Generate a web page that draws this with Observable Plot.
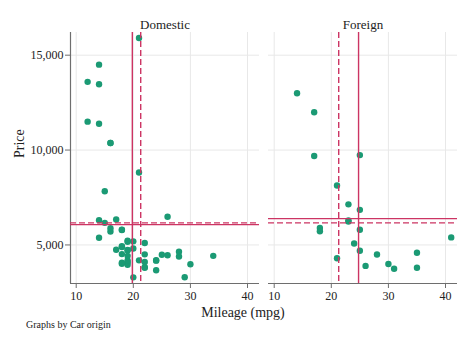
<!DOCTYPE html>
<html>
<head>
<meta charset="utf-8">
<script src="https://cdn.jsdelivr.net/npm/d3@7"></script>
<script src="https://cdn.jsdelivr.net/npm/@observablehq/plot@0.6"></script>
<style>
  html, body { margin: 0; padding: 0; background: #fff; }
  #chart { width: 474px; height: 344px; position: relative; font-family: "Liberation Serif", "DejaVu Serif", serif; }
  #chart figure { margin: 0; }
  .caption { font-size: 10px; line-height: 10px; padding-left: 26px; color: #222; position: relative; top: -2px; }
</style>
</head>
<body>
<div id="chart"></div>
<script>
// 1978 automobile data: make, price (USD), mileage (mpg), origin
const makes = [
  "AMC Concord","AMC Pacer","AMC Spirit","Buick Century","Buick Electra","Buick LeSabre","Buick Opel","Buick Regal",
  "Buick Riviera","Buick Skylark","Cad. Deville","Cad. Eldorado","Cad. Seville","Chev. Chevette","Chev. Impala",
  "Chev. Malibu","Chev. Monte Carlo","Chev. Monza","Chev. Nova","Dodge Colt","Dodge Diplomat","Dodge Magnum",
  "Dodge St. Regis","Ford Fiesta","Ford Mustang","Linc. Continental","Linc. Mark V","Linc. Versailles","Merc. Bobcat",
  "Merc. Cougar","Merc. Marquis","Merc. Monarch","Merc. XR-7","Merc. Zephyr","Olds 98","Olds Cutl Supr","Olds Cutlass",
  "Olds Delta 88","Olds Omega","Olds Starfire","Olds Toronado","Plym. Arrow","Plym. Champ","Plym. Horizon",
  "Plym. Sapporo","Plym. Volare","Pont. Catalina","Pont. Firebird","Pont. Grand Prix","Pont. Le Mans","Pont. Phoenix",
  "Pont. Sunbird",
  "Audi 5000","Audi Fox","BMW 320i","Datsun 200","Datsun 210","Datsun 510","Datsun 810","Fiat Strada","Honda Accord",
  "Honda Civic","Mazda GLC","Peugeot 604","Renault Le Car","Subaru","Toyota Celica","Toyota Corolla","Toyota Corona",
  "VW Dasher","VW Diesel","VW Rabbit","VW Scirocco","Volvo 260"
];
const price = [
  4099,4749,3799,4816,7827,5788,4453,5189,10372,4082,11385,14500,15906,3299,5705,4504,5104,3667,3955,3984,4010,5886,
  6342,4389,4187,11497,13594,13466,3829,5379,6165,4516,6303,3291,8814,5172,4733,4890,4181,4195,10371,4647,4425,4482,
  6486,4060,5798,4934,5222,4723,4424,4172,
  9690,6295,9735,6229,4589,5079,8129,4296,5799,4499,3995,12990,3895,3798,5899,3748,5719,7140,5397,4697,6850,11995
];
const mpg = [
  22,17,22,20,15,18,26,20,16,19,14,14,21,29,16,22,22,24,19,30,18,16,17,28,21,12,12,14,22,14,15,18,14,20,21,19,19,18,
  19,24,16,28,34,25,26,18,18,18,19,19,19,24,
  17,23,25,23,35,24,21,21,25,28,30,14,26,35,18,31,18,23,41,25,25,17
];
const origin = makes.map((_, i) => (i < 52 ? "Domestic" : "Foreign"));
const origins = ["Domestic", "Foreign"];
const xTicks = [10, 20, 30, 40];
const yTicks = [5000, 10000, 15000];

const cars = makes.map((make, i) => ({make, price: price[i], mpg: mpg[i], origin: origin[i]}));

// group means (solid) and overall means (dashed)
const groupMeans = origins.map(o => {
  const g = cars.filter(d => d.origin === o);
  return {origin: o, mpg: d3.mean(g, d => d.mpg), price: d3.mean(g, d => d.price)};
});
const overall = {mpg: d3.mean(cars, d => d.mpg), price: d3.mean(cars, d => d.price)};

const xDomain = [9, 42.1];
const yDomain = [2968, 16195];
const lineColor = "#cc3463";
const dotColor = "#1b9a74";
const gridColor = "#e8e8e8";
const axisColor = "#6e6e6e";

const plot = Plot.plot({
  width: 474,
  height: 322,
  marginTop: 32,
  marginBottom: 39,
  marginLeft: 69,
  marginRight: 16,
  style: {fontFamily: "Liberation Serif, DejaVu Serif, serif", fontSize: "12px", color: "#222", background: "#fff", overflow: "visible"},
  x: {domain: xDomain},
  y: {domain: yDomain},
  fx: {domain: origins, paddingInner: 0.045, paddingOuter: 0},
  marks: [
    Plot.gridX(xTicks, {stroke: gridColor, strokeOpacity: 1}),
    Plot.gridY(yTicks, {stroke: gridColor, strokeOpacity: 1}),
    Plot.axisFx({anchor: "top", label: null, tickSize: 0, tickPadding: 4, fontSize: 13}),
    Plot.axisX(xTicks, {anchor: "bottom", label: null, tickSize: 5, tickPadding: 3, stroke: axisColor, fontSize: 12}),
    Plot.axisY(yTicks, {anchor: "left", label: null, tickSize: 5, tickPadding: 2, stroke: axisColor, fontSize: 12, tickFormat: d3.format(",")}),
    // axis lines
    Plot.ruleY([yDomain[0]], {stroke: axisColor, strokeWidth: 1.2}),
    Plot.ruleX([{origin: "Domestic"}], {x: () => xDomain[0], fx: "origin", stroke: axisColor, strokeWidth: 1.2}),
    // scatter
    Plot.dot(cars, {x: "mpg", y: "price", fx: "origin", r: 3.2, fill: dotColor, stroke: "none"}),
    // overall means
    Plot.ruleX([overall], {x: "mpg", stroke: lineColor, strokeWidth: 1.4, strokeDasharray: "6,3"}),
    Plot.ruleY([overall], {y: "price", stroke: lineColor, strokeWidth: 1.4, strokeDasharray: "6,3"}),
    // group means
    Plot.ruleX(groupMeans, {x: "mpg", fx: "origin", stroke: lineColor, strokeWidth: 1.4}),
    Plot.ruleY(groupMeans, {y: "price", fx: "origin", stroke: lineColor, strokeWidth: 1.4}),
    // axis titles
    Plot.text(["Mileage (mpg)"], {frameAnchor: "bottom", facet: "super", dy: 33, dx: -21, fontSize: 14, fill: "#222"}),
    Plot.text(["Price"], {frameAnchor: "left", facet: "super", dx: -51, rotate: -90, fontSize: 14, fill: "#222"})
  ]
});

const root = document.getElementById("chart");
root.appendChild(plot);
const cap = document.createElement("div");
cap.className = "caption";
cap.textContent = "Graphs by Car origin";
root.appendChild(cap);
</script>
</body>
</html>
